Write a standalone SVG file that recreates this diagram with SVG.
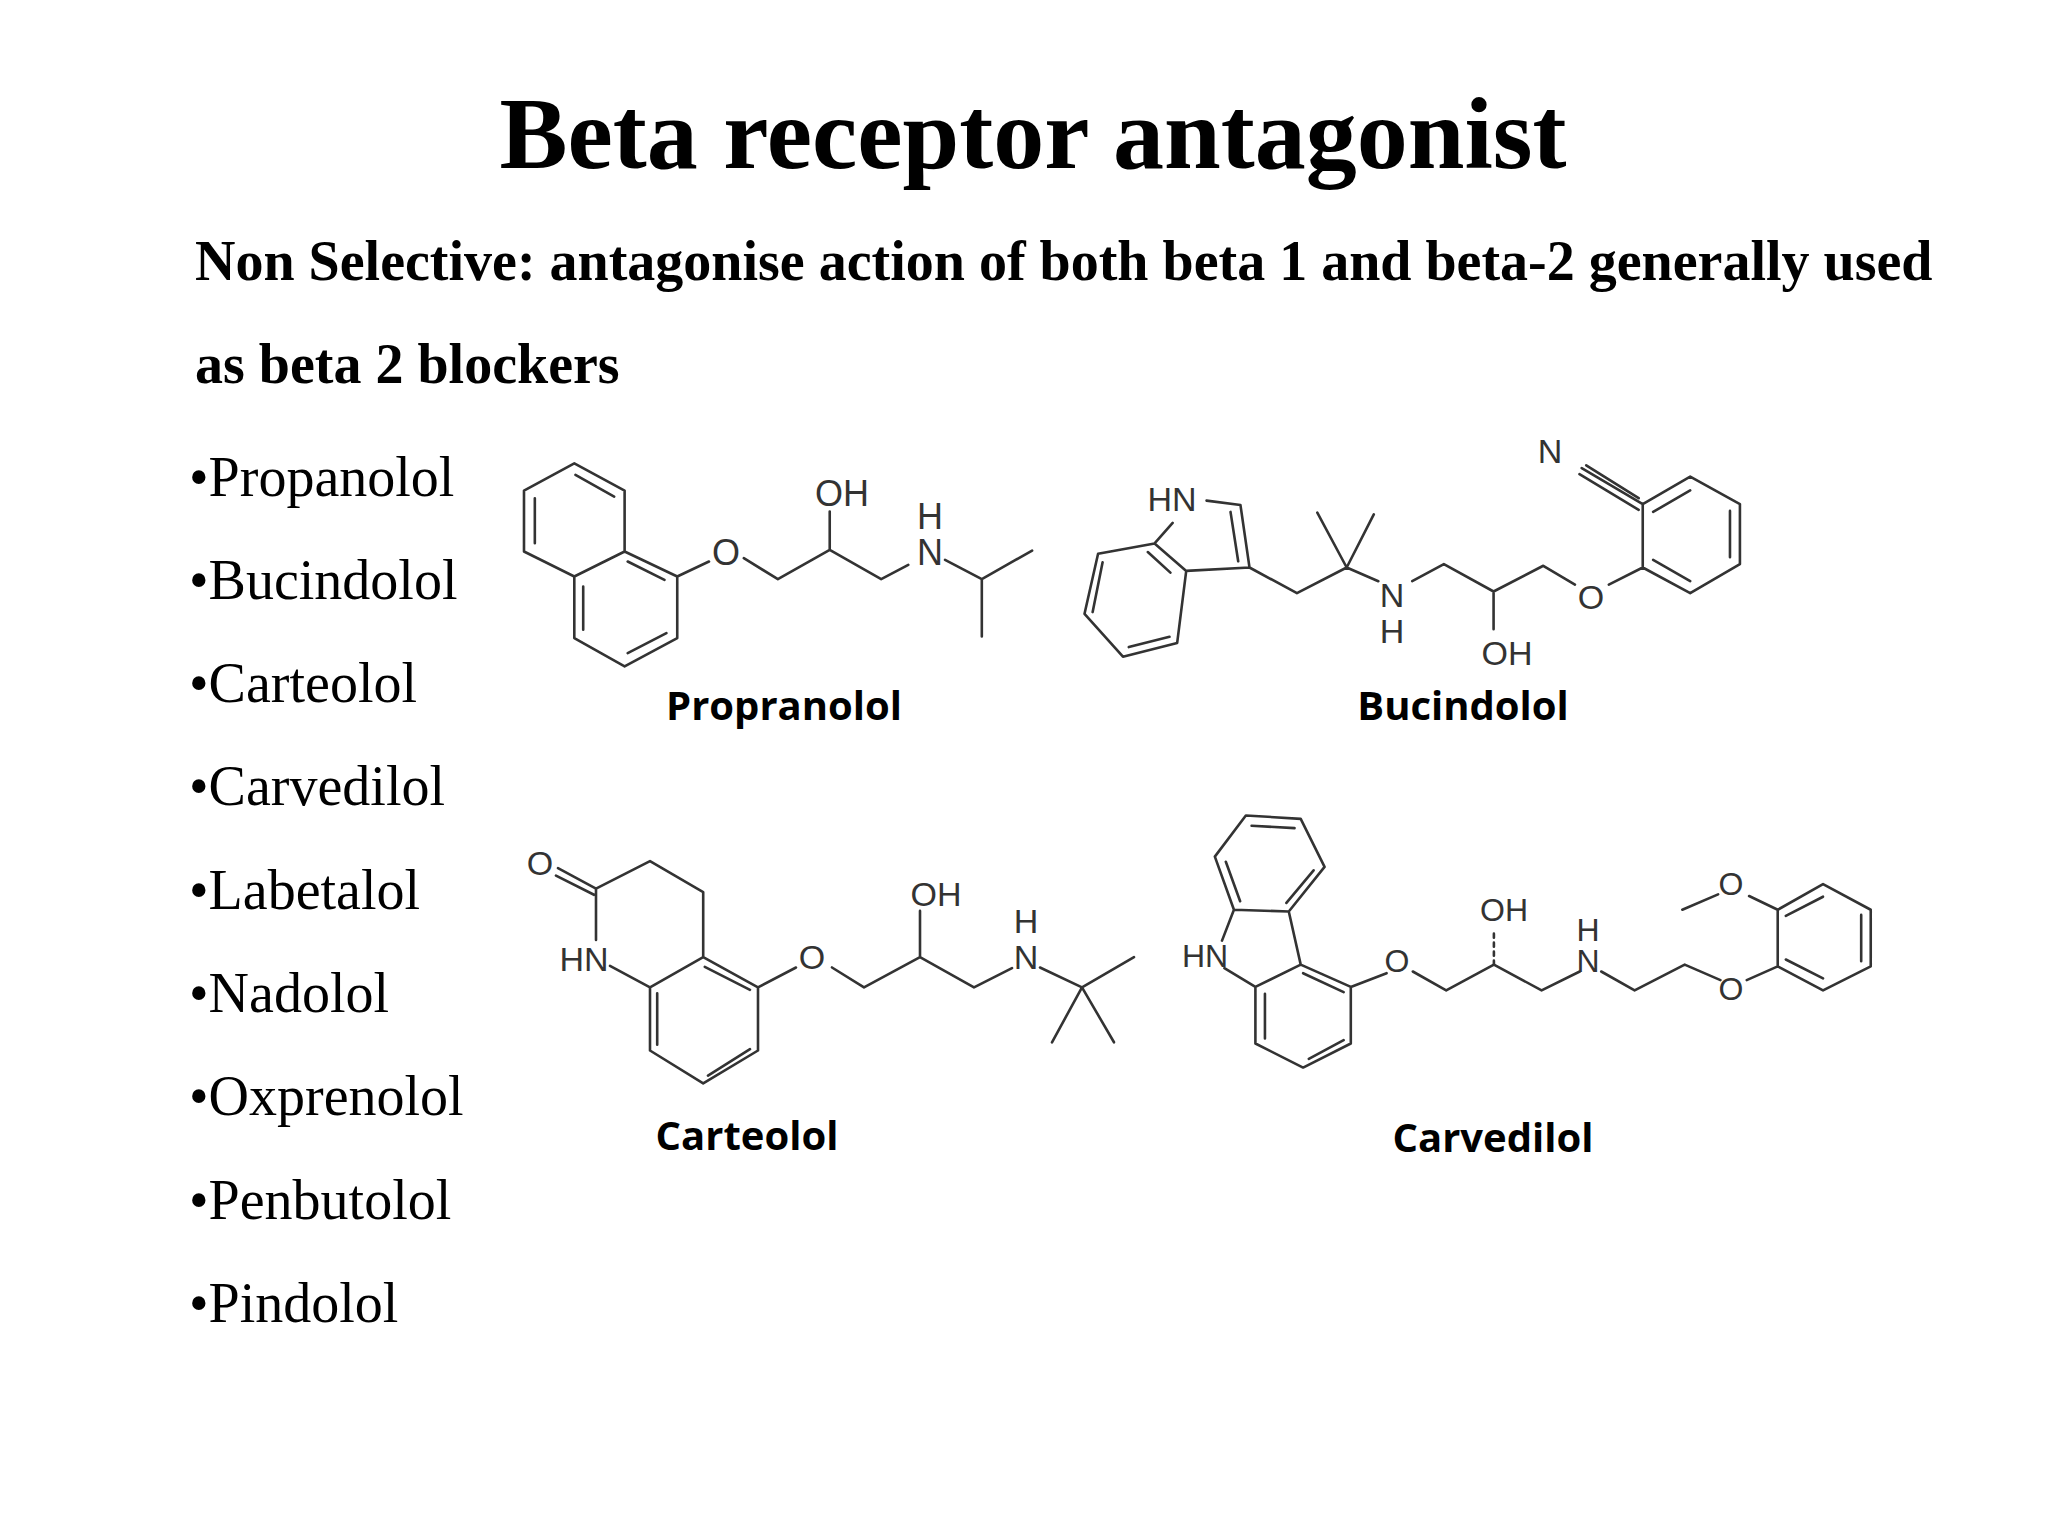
<svg xmlns="http://www.w3.org/2000/svg" width="2048" height="1536" viewBox="0 0 2048 1536">
<style>
.b{fill:none;stroke:#333;stroke-width:2.6;stroke-linecap:round;stroke-linejoin:round;vector-effect:non-scaling-stroke}
.a{font-family:"Liberation Sans",Arial,sans-serif;fill:#333;text-anchor:middle}
.lab{font-family:"Open Sans","Noto Sans",sans-serif;font-weight:bold;font-size:40px;text-anchor:middle;fill:#000}
.bul{font-family:"Liberation Serif","Times New Roman",serif;font-size:56px;fill:#000}
.hd{font-family:"Liberation Serif","Times New Roman",serif;font-weight:bold;fill:#000}
</style>
<rect width="2048" height="1536" fill="#fff"/>
<g id="title"><text class="hd" x="1033" y="168" font-size="102" text-anchor="middle">Beta receptor antagonist</text></g>
<g id="subtitle" class="hd" font-size="56">
<text x="195" y="280">Non Selective: antagonise action of both beta 1 and beta-2 generally used</text>
<text x="195" y="383">as beta 2 blockers</text>
</g>
<g id="list" class="bul">
<text x="189" y="496">•Propanolol</text>
<text x="189" y="599">•Bucindolol</text>
<text x="189" y="702">•Carteolol</text>
<text x="189" y="805">•Carvedilol</text>
<text x="189" y="909">•Labetalol</text>
<text x="189" y="1012">•Nadolol</text>
<text x="189" y="1115">•Oxprenolol</text>
<text x="189" y="1219">•Penbutolol</text>
<text x="189" y="1322">•Pindolol</text>
</g>

<g id="propranolol">
<g transform="translate(500,420) scale(0.387,0.333)">
<path class="b" d="M192,130 L322,212 L322,395 L192,470 L62,395 L62,212 Z M195,165 L295,230 M90,235 L90,370 M322,395 L458,470 L458,655 L322,740 L192,655 L192,470 M215,500 L215,630 M330,700 L430,640 M330,425 L425,480 M458,470 L540,425 M630,415 L718,478 L852,390 L985,478 L1055,435 M852,390 L852,275 M1150,420 L1245,478 L1375,392 M1245,478 L1245,650"/>
</g>
<g class="a" font-size="36"><text x="726" y="565">O</text><text x="842" y="506">OH</text><text x="930" y="565">N</text><text x="930" y="529">H</text></g>
<text class="lab" x="784" y="720">Propranolol</text>
</g>

<g id="bucindolol">
<g transform="translate(1080,420) scale(0.452,0.343)">
<path class="b" d="M40,390 L165,360 L235,440 L215,650 L95,690 L10,565 Z M50,415 L28,560 M108,662 L198,632 M200,445 L150,385 M165,360 L205,300 M280,235 L355,248 L375,430 L235,440 M333,268 L350,412 M375,430 L480,505 L590,430 L660,470 M590,430 L525,270 M590,430 L650,275 M735,470 L805,420 L915,500 L1025,425 L1095,480 M915,500 L915,610 M1170,480 L1245,430 M1245,430 L1245,245 L1350,165 L1460,245 L1460,420 L1350,505 Z M1268,268 L1350,205 M1438,265 L1438,400 M1268,408 L1350,470 M1245,245 L1110,140 M1236,228 L1120,132 M1236,262 L1105,158"/>
</g>
<g class="a" font-size="34"><text x="1172" y="511">HN</text><text x="1392" y="607">N</text><text x="1392" y="643">H</text><text x="1507" y="665">OH</text><text x="1591" y="609">O</text><text x="1550" y="463">N</text></g>
<text class="lab" x="1463" y="720">Bucindolol</text>
</g>

<g id="carteolol">
<g transform="translate(520,820) scale(0.40,0.343)">
<path class="b" d="M95,140 L190,200 M90,162 L185,218 M190,200 L325,120 L458,210 L458,400 M190,200 L190,350 M225,425 L325,488 M458,400 L595,488 L595,672 L458,768 L325,672 L325,488 Z M343,505 L343,655 M470,745 L575,668 M462,428 L575,495 M595,488 L690,430 M780,430 L860,488 L1000,400 L1135,488 L1230,432 M1000,400 L1000,265 M1300,430 L1405,488 L1535,400 M1405,488 L1330,648 M1405,488 L1485,648"/>
</g>
<g class="a" font-size="34"><text x="540" y="875">O</text><text x="584" y="971">HN</text><text x="812" y="969">O</text><text x="936" y="906">OH</text><text x="1026" y="969">N</text><text x="1026" y="933">H</text></g>
<text class="lab" x="747" y="1150">Carteolol</text>
</g>

<g id="carvedilol">
<g transform="translate(1160,800) scale(0.477,0.343)">
<path class="b" d="M180,45 L295,55 L345,195 L270,325 L155,320 L115,165 Z M192,75 L282,82 M322,205 L265,300 M138,180 L168,295 M155,320 L130,410 M135,490 L200,545 M270,325 L295,480 M200,545 L295,480 L400,545 L400,710 L300,780 L200,710 Z M220,565 L220,695 M312,755 L385,700 M300,505 L385,560 M400,545 L475,505 M530,500 L600,555 L700,480 L800,555 L880,500 M925,500 L995,555 L1100,480 L1175,525 M1230,525 L1295,485 M1295,485 L1295,320 L1390,245 L1490,320 L1490,485 L1390,555 Z M1312,465 L1390,520 M1470,335 L1470,470 M1312,338 L1390,282 M1295,320 L1235,280 M1170,275 L1095,320"/>
<path class="b" d="M700,480 L700,380" stroke-dasharray="4 5"/>
</g>
<g class="a" font-size="32"><text x="1205" y="967">HN</text><text x="1397" y="972">O</text><text x="1504" y="921">OH</text><text x="1588" y="972">N</text><text x="1588" y="941">H</text><text x="1731" y="1000">O</text><text x="1731" y="895">O</text></g>
<text class="lab" x="1493" y="1152">Carvedilol</text>
</g>
</svg>
